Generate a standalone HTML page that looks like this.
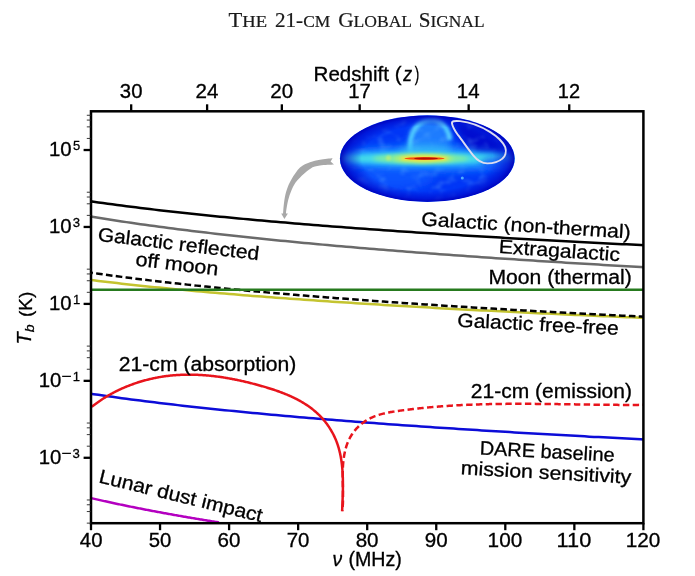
<!DOCTYPE html><html><head><meta charset="utf-8"><style>html,body{margin:0;padding:0;background:#fff;width:695px;height:576px;overflow:hidden;position:relative}</style></head><body><svg width="695" height="576" viewBox="0 0 695 576" style="position:absolute;left:0;top:0;filter:blur(0.55px)">
<defs>
<clipPath id="plot"><rect x="91.00" y="111.30" width="552.40" height="411.90"/></clipPath>
<clipPath id="mw"><ellipse cx="427.3" cy="158.6" rx="87.3" ry="43.2"/></clipPath>
<radialGradient id="mwg" cx="0.5" cy="0.5" r="0.5">
<stop offset="0" stop-color="#0a5cff"/><stop offset="0.7" stop-color="#0048f8"/><stop offset="0.92" stop-color="#0030e0"/><stop offset="1" stop-color="#0018c8"/>
</radialGradient>
<filter id="b1" x="-50%" y="-50%" width="200%" height="200%"><feGaussianBlur stdDeviation="1"/></filter>
<filter id="b2" x="-50%" y="-50%" width="200%" height="200%"><feGaussianBlur stdDeviation="2"/></filter>
<filter id="b3" x="-50%" y="-50%" width="200%" height="200%"><feGaussianBlur stdDeviation="3.5"/></filter>
<filter id="b15" x="-50%" y="-50%" width="200%" height="200%"><feGaussianBlur stdDeviation="1.5"/></filter>
<filter id="b4" x="-50%" y="-50%" width="200%" height="200%"><feGaussianBlur stdDeviation="5"/></filter>
<filter id="b6" x="-50%" y="-50%" width="200%" height="200%"><feGaussianBlur stdDeviation="7"/></filter>
<filter id="tex" x="0" y="0" width="100%" height="100%"><feTurbulence type="fractalNoise" baseFrequency="0.09 0.14" numOctaves="2" seed="7"/><feColorMatrix type="matrix" values="0 0 0 0 0.2  0 0 0 0 0.6  0 0 0 0 1  0 0 0 3 -1.5"/><feGaussianBlur stdDeviation="1"/></filter>
<radialGradient id="rim" cx="0.5" cy="0.5" r="0.5"><stop offset="0.75" stop-color="#0004c8" stop-opacity="0"/><stop offset="0.92" stop-color="#0004c8" stop-opacity="0.6"/><stop offset="1" stop-color="#0000b8" stop-opacity="0.95"/></radialGradient>
<filter id="b05" x="-50%" y="-50%" width="200%" height="200%"><feGaussianBlur stdDeviation="0.6"/></filter>
</defs>
<rect width="695" height="576" fill="#fff"/>
<text x="228.55" y="26.6" font-family="Liberation Serif, serif" fill="#1a1a1a" stroke="#1a1a1a" stroke-width="0.2" textLength="38.54" lengthAdjust="spacingAndGlyphs"><tspan font-size="20.4">T</tspan><tspan font-size="16.8">HE</tspan></text>
<text x="274.95" y="26.6" font-family="Liberation Serif, serif" fill="#1a1a1a" stroke="#1a1a1a" stroke-width="0.2" textLength="55.29" lengthAdjust="spacingAndGlyphs"><tspan font-size="20.4">21-</tspan><tspan font-size="16.8">CM</tspan></text>
<text x="338.15" y="26.6" font-family="Liberation Serif, serif" fill="#1a1a1a" stroke="#1a1a1a" stroke-width="0.2" textLength="73.96" lengthAdjust="spacingAndGlyphs"><tspan font-size="20.4">G</tspan><tspan font-size="16.8">LOBAL</tspan></text>
<text x="418.73" y="26.6" font-family="Liberation Serif, serif" fill="#1a1a1a" stroke="#1a1a1a" stroke-width="0.2" textLength="65.82" lengthAdjust="spacingAndGlyphs"><tspan font-size="20.4">S</tspan><tspan font-size="16.8">IGNAL</tspan></text>
<g clip-path="url(#plot)" fill="none" stroke-linejoin="round">
<path d="M89.00,201.09 L93.68,201.76 L98.35,202.42 L103.03,203.07 L107.70,203.72 L112.38,204.35 L117.05,204.97 L121.73,205.58 L126.41,206.18 L131.08,206.78 L135.76,207.36 L140.43,207.94 L145.11,208.51 L149.78,209.07 L154.46,209.62 L159.13,210.16 L163.81,210.70 L168.49,211.23 L173.16,211.76 L177.84,212.27 L182.51,212.78 L187.19,213.29 L191.86,213.78 L196.54,214.28 L201.22,214.76 L205.89,215.24 L210.57,215.71 L215.24,216.18 L219.92,216.64 L224.59,217.10 L229.27,217.55 L233.94,218.00 L238.62,218.44 L243.30,218.88 L247.97,219.31 L252.65,219.74 L257.32,220.17 L262.00,220.58 L266.67,221.00 L271.35,221.41 L276.03,221.82 L280.70,222.22 L285.38,222.62 L290.05,223.01 L294.73,223.40 L299.40,223.79 L304.08,224.17 L308.75,224.55 L313.43,224.92 L318.11,225.30 L322.78,225.66 L327.46,226.03 L332.13,226.39 L336.81,226.75 L341.48,227.11 L346.16,227.46 L350.84,227.81 L355.51,228.15 L360.19,228.50 L364.86,228.84 L369.54,229.17 L374.21,229.51 L378.89,229.84 L383.56,230.17 L388.24,230.50 L392.92,230.82 L397.59,231.14 L402.27,231.46 L406.94,231.78 L411.62,232.09 L416.29,232.40 L420.97,232.71 L425.65,233.02 L430.32,233.32 L435.00,233.62 L439.67,233.92 L444.35,234.22 L449.02,234.51 L453.70,234.81 L458.37,235.10 L463.05,235.38 L467.73,235.67 L472.40,235.96 L477.08,236.24 L481.75,236.52 L486.43,236.80 L491.10,237.07 L495.78,237.35 L500.46,237.62 L505.13,237.89 L509.81,238.16 L514.48,238.43 L519.16,238.69 L523.83,238.96 L528.51,239.22 L533.18,239.48 L537.86,239.74 L542.54,240.00 L547.21,240.25 L551.89,240.50 L556.56,240.76 L561.24,241.01 L565.91,241.26 L570.59,241.50 L575.27,241.75 L579.94,241.99 L584.62,242.24 L589.29,242.48 L593.97,242.72 L598.64,242.96 L603.32,243.19 L607.99,243.43 L612.67,243.66 L617.35,243.90 L622.02,244.13 L626.70,244.36 L631.37,244.59 L636.05,244.81 L640.72,245.04 L645.40,245.27" stroke="#000" stroke-width="2.50"/>
<path d="M89.00,216.23 L93.68,217.01 L98.35,217.77 L103.03,218.53 L107.70,219.27 L112.38,220.00 L117.05,220.71 L121.73,221.42 L126.41,222.12 L131.08,222.80 L135.76,223.48 L140.43,224.15 L145.11,224.80 L149.78,225.45 L154.46,226.09 L159.13,226.72 L163.81,227.34 L168.49,227.95 L173.16,228.56 L177.84,229.15 L182.51,229.74 L187.19,230.33 L191.86,230.90 L196.54,231.47 L201.22,232.03 L205.89,232.58 L210.57,233.13 L215.24,233.67 L219.92,234.21 L224.59,234.73 L229.27,235.26 L233.94,235.77 L238.62,236.28 L243.30,236.79 L247.97,237.29 L252.65,237.78 L257.32,238.27 L262.00,238.76 L266.67,239.24 L271.35,239.71 L276.03,240.18 L280.70,240.64 L285.38,241.10 L290.05,241.56 L294.73,242.01 L299.40,242.46 L304.08,242.90 L308.75,243.34 L313.43,243.77 L318.11,244.20 L322.78,244.63 L327.46,245.05 L332.13,245.47 L336.81,245.88 L341.48,246.29 L346.16,246.70 L350.84,247.10 L355.51,247.50 L360.19,247.90 L364.86,248.29 L369.54,248.68 L374.21,249.07 L378.89,249.45 L383.56,249.83 L388.24,250.21 L392.92,250.58 L397.59,250.95 L402.27,251.32 L406.94,251.69 L411.62,252.05 L416.29,252.41 L420.97,252.77 L425.65,253.12 L430.32,253.47 L435.00,253.82 L439.67,254.17 L444.35,254.51 L449.02,254.85 L453.70,255.19 L458.37,255.52 L463.05,255.86 L467.73,256.19 L472.40,256.52 L477.08,256.84 L481.75,257.17 L486.43,257.49 L491.10,257.81 L495.78,258.13 L500.46,258.44 L505.13,258.75 L509.81,259.07 L514.48,259.37 L519.16,259.68 L523.83,259.99 L528.51,260.29 L533.18,260.59 L537.86,260.89 L542.54,261.19 L547.21,261.48 L551.89,261.77 L556.56,262.06 L561.24,262.35 L565.91,262.64 L570.59,262.93 L575.27,263.21 L579.94,263.49 L584.62,263.77 L589.29,264.05 L593.97,264.33 L598.64,264.61 L603.32,264.88 L607.99,265.15 L612.67,265.42 L617.35,265.69 L622.02,265.96 L626.70,266.23 L631.37,266.49 L636.05,266.75 L640.72,267.01 L645.40,267.27" stroke="#6a6a6a" stroke-width="2.50"/>
<path d="M89.00,279.75 L93.68,280.33 L98.35,280.91 L103.03,281.47 L107.70,282.02 L112.38,282.57 L117.05,283.11 L121.73,283.64 L126.41,284.16 L131.08,284.67 L135.76,285.18 L140.43,285.67 L145.11,286.17 L149.78,286.65 L154.46,287.13 L159.13,287.60 L163.81,288.06 L168.49,288.52 L173.16,288.97 L177.84,289.42 L182.51,289.86 L187.19,290.30 L191.86,290.73 L196.54,291.15 L201.22,291.57 L205.89,291.99 L210.57,292.40 L215.24,292.80 L219.92,293.20 L224.59,293.60 L229.27,293.99 L233.94,294.37 L238.62,294.76 L243.30,295.13 L247.97,295.51 L252.65,295.88 L257.32,296.24 L262.00,296.61 L266.67,296.96 L271.35,297.32 L276.03,297.67 L280.70,298.02 L285.38,298.36 L290.05,298.70 L294.73,299.04 L299.40,299.37 L304.08,299.71 L308.75,300.03 L313.43,300.36 L318.11,300.68 L322.78,301.00 L327.46,301.31 L332.13,301.63 L336.81,301.94 L341.48,302.24 L346.16,302.55 L350.84,302.85 L355.51,303.15 L360.19,303.45 L364.86,303.74 L369.54,304.03 L374.21,304.32 L378.89,304.61 L383.56,304.89 L388.24,305.18 L392.92,305.46 L397.59,305.73 L402.27,306.01 L406.94,306.28 L411.62,306.55 L416.29,306.82 L420.97,307.09 L425.65,307.35 L430.32,307.62 L435.00,307.88 L439.67,308.14 L444.35,308.39 L449.02,308.65 L453.70,308.90 L458.37,309.15 L463.05,309.40 L467.73,309.65 L472.40,309.89 L477.08,310.14 L481.75,310.38 L486.43,310.62 L491.10,310.86 L495.78,311.10 L500.46,311.33 L505.13,311.57 L509.81,311.80 L514.48,312.03 L519.16,312.26 L523.83,312.49 L528.51,312.72 L533.18,312.94 L537.86,313.16 L542.54,313.39 L547.21,313.61 L551.89,313.83 L556.56,314.04 L561.24,314.26 L565.91,314.48 L570.59,314.69 L575.27,314.90 L579.94,315.11 L584.62,315.32 L589.29,315.53 L593.97,315.74 L598.64,315.95 L603.32,316.15 L607.99,316.36 L612.67,316.56 L617.35,316.76 L622.02,316.96 L626.70,317.16 L631.37,317.36 L636.05,317.55 L640.72,317.75 L645.40,317.94" stroke="#c4c430" stroke-width="2.50"/>
<path d="M89.00,272.36 L93.68,273.04 L98.35,273.70 L103.03,274.36 L107.70,275.00 L112.38,275.64 L117.05,276.26 L121.73,276.88 L126.41,277.48 L131.08,278.08 L135.76,278.67 L140.43,279.25 L145.11,279.82 L149.78,280.38 L154.46,280.94 L159.13,281.49 L163.81,282.03 L168.49,282.56 L173.16,283.09 L177.84,283.61 L182.51,284.12 L187.19,284.63 L191.86,285.13 L196.54,285.62 L201.22,286.11 L205.89,286.59 L210.57,287.07 L215.24,287.54 L219.92,288.00 L224.59,288.46 L229.27,288.92 L233.94,289.37 L238.62,289.81 L243.30,290.25 L247.97,290.69 L252.65,291.12 L257.32,291.54 L262.00,291.96 L266.67,292.38 L271.35,292.79 L276.03,293.20 L280.70,293.60 L285.38,294.00 L290.05,294.40 L294.73,294.79 L299.40,295.18 L304.08,295.57 L308.75,295.95 L313.43,296.33 L318.11,296.70 L322.78,297.07 L327.46,297.44 L332.13,297.80 L336.81,298.16 L341.48,298.52 L346.16,298.87 L350.84,299.22 L355.51,299.57 L360.19,299.92 L364.86,300.26 L369.54,300.60 L374.21,300.94 L378.89,301.27 L383.56,301.60 L388.24,301.93 L392.92,302.25 L397.59,302.58 L402.27,302.90 L406.94,303.21 L411.62,303.53 L416.29,303.84 L420.97,304.15 L425.65,304.46 L430.32,304.77 L435.00,305.07 L439.67,305.37 L444.35,305.67 L449.02,305.97 L453.70,306.26 L458.37,306.55 L463.05,306.84 L467.73,307.13 L472.40,307.42 L477.08,307.70 L481.75,307.98 L486.43,308.26 L491.10,308.54 L495.78,308.82 L500.46,309.09 L505.13,309.36 L509.81,309.63 L514.48,309.90 L519.16,310.17 L523.83,310.43 L528.51,310.70 L533.18,310.96 L537.86,311.22 L542.54,311.48 L547.21,311.73 L551.89,311.99 L556.56,312.24 L561.24,312.49 L565.91,312.75 L570.59,312.99 L575.27,313.24 L579.94,313.49 L584.62,313.73 L589.29,313.97 L593.97,314.21 L598.64,314.45 L603.32,314.69 L607.99,314.93 L612.67,315.17 L617.35,315.40 L622.02,315.63 L626.70,315.86 L631.37,316.09 L636.05,316.32 L640.72,316.55 L645.40,316.78" stroke="#000" stroke-width="2.50" stroke-dasharray="6.6 3.3" stroke-dashoffset="2.70"/>
<path d="M89.00,289.8 L645.40,289.8" stroke="#267a1e" stroke-width="2.50"/>
<path d="M89.00,393.45 L93.68,394.15 L98.35,394.84 L103.03,395.52 L107.70,396.19 L112.38,396.85 L117.05,397.50 L121.73,398.14 L126.41,398.77 L131.08,399.39 L135.76,400.00 L140.43,400.60 L145.11,401.19 L149.78,401.78 L154.46,402.35 L159.13,402.92 L163.81,403.48 L168.49,404.03 L173.16,404.58 L177.84,405.12 L182.51,405.65 L187.19,406.18 L191.86,406.70 L196.54,407.21 L201.22,407.71 L205.89,408.21 L210.57,408.71 L215.24,409.20 L219.92,409.68 L224.59,410.16 L229.27,410.63 L233.94,411.10 L238.62,411.56 L243.30,412.01 L247.97,412.46 L252.65,412.91 L257.32,413.35 L262.00,413.79 L266.67,414.22 L271.35,414.65 L276.03,415.07 L280.70,415.49 L285.38,415.91 L290.05,416.32 L294.73,416.73 L299.40,417.13 L304.08,417.53 L308.75,417.92 L313.43,418.32 L318.11,418.70 L322.78,419.09 L327.46,419.47 L332.13,419.85 L336.81,420.22 L341.48,420.59 L346.16,420.96 L350.84,421.32 L355.51,421.68 L360.19,422.04 L364.86,422.40 L369.54,422.75 L374.21,423.10 L378.89,423.44 L383.56,423.79 L388.24,424.13 L392.92,424.47 L397.59,424.80 L402.27,425.13 L406.94,425.46 L411.62,425.79 L416.29,426.11 L420.97,426.44 L425.65,426.76 L430.32,427.07 L435.00,427.39 L439.67,427.70 L444.35,428.01 L449.02,428.32 L453.70,428.62 L458.37,428.93 L463.05,429.23 L467.73,429.53 L472.40,429.82 L477.08,430.12 L481.75,430.41 L486.43,430.70 L491.10,430.99 L495.78,431.28 L500.46,431.56 L505.13,431.84 L509.81,432.12 L514.48,432.40 L519.16,432.68 L523.83,432.95 L528.51,433.23 L533.18,433.50 L537.86,433.77 L542.54,434.04 L547.21,434.30 L551.89,434.57 L556.56,434.83 L561.24,435.09 L565.91,435.35 L570.59,435.61 L575.27,435.87 L579.94,436.12 L584.62,436.37 L589.29,436.63 L593.97,436.88 L598.64,437.12 L603.32,437.37 L607.99,437.62 L612.67,437.86 L617.35,438.11 L622.02,438.35 L626.70,438.59 L631.37,438.83 L636.05,439.06 L640.72,439.30 L645.40,439.53" stroke="#0c0cd8" stroke-width="2.50"/>
<path d="M89.00,497.63 L90.09,497.88 L91.18,498.14 L92.28,498.39 L93.37,498.64 L94.46,498.89 L95.55,499.14 L96.65,499.39 L97.74,499.63 L98.83,499.88 L99.92,500.13 L101.02,500.37 L102.11,500.61 L103.20,500.86 L104.29,501.10 L105.39,501.34 L106.48,501.58 L107.57,501.82 L108.66,502.05 L109.76,502.29 L110.85,502.53 L111.94,502.76 L113.03,503.00 L114.13,503.23 L115.22,503.46 L116.31,503.70 L117.40,503.93 L118.50,504.16 L119.59,504.39 L120.68,504.62 L121.77,504.84 L122.87,505.07 L123.96,505.30 L125.05,505.52 L126.14,505.75 L127.24,505.97 L128.33,506.19 L129.42,506.42 L130.51,506.64 L131.61,506.86 L132.70,507.08 L133.79,507.30 L134.88,507.52 L135.97,507.73 L137.07,507.95 L138.16,508.17 L139.25,508.38 L140.34,508.60 L141.44,508.81 L142.53,509.02 L143.62,509.24 L144.71,509.45 L145.81,509.66 L146.90,509.87 L147.99,510.08 L149.08,510.29 L150.18,510.50 L151.27,510.71 L152.36,510.91 L153.45,511.12 L154.55,511.33 L155.64,511.53 L156.73,511.74 L157.82,511.94 L158.92,512.14 L160.01,512.35 L161.10,512.55 L162.19,512.75 L163.29,512.95 L164.38,513.15 L165.47,513.35 L166.56,513.55 L167.66,513.75 L168.75,513.94 L169.84,514.14 L170.93,514.34 L172.03,514.53 L173.12,514.73 L174.21,514.92 L175.30,515.12 L176.39,515.31 L177.49,515.50 L178.58,515.69 L179.67,515.89 L180.76,516.08 L181.86,516.27 L182.95,516.46 L184.04,516.65 L185.13,516.84 L186.23,517.02 L187.32,517.21 L188.41,517.40 L189.50,517.58 L190.60,517.77 L191.69,517.96 L192.78,518.14 L193.87,518.33 L194.97,518.51 L196.06,518.69 L197.15,518.88 L198.24,519.06 L199.34,519.24 L200.43,519.42 L201.52,519.60 L202.61,519.78 L203.71,519.96 L204.80,520.14 L205.89,520.32 L206.98,520.50 L208.08,520.68 L209.17,520.85 L210.26,521.03 L211.35,521.21 L212.45,521.38 L213.54,521.56 L214.63,521.73 L215.72,521.91 L216.82,522.08 L217.91,522.25 L219.00,522.43" stroke="#b400c0" stroke-width="2.50"/>
<path d="M91.74,406.85 L92.42,406.31 L93.10,405.78 L93.78,405.25 L94.47,404.73 L95.16,404.21 L95.85,403.69 L96.55,403.18 L97.25,402.67 L97.96,402.17 L98.66,401.67 L99.38,401.18 L100.09,400.69 L100.81,400.21 L101.53,399.73 L102.26,399.25 L102.98,398.78 L103.72,398.31 L104.45,397.85 L105.19,397.39 L105.93,396.94 L106.67,396.49 L107.42,396.05 L108.16,395.61 L108.92,395.18 L109.67,394.75 L110.43,394.32 L111.19,393.90 L111.95,393.48 L112.72,393.07 L113.49,392.66 L114.26,392.26 L115.03,391.86 L115.80,391.47 L116.58,391.08 L117.36,390.69 L118.15,390.31 L118.93,389.94 L119.72,389.57 L120.51,389.20 L121.30,388.84 L122.09,388.48 L122.89,388.13 L123.69,387.78 L124.49,387.44 L125.29,387.10 L126.10,386.76 L126.90,386.43 L127.71,386.11 L128.52,385.79 L129.33,385.47 L130.14,385.16 L130.96,384.85 L131.78,384.55 L132.59,384.25 L133.41,383.96 L134.24,383.67 L135.06,383.38 L135.88,383.10 L136.71,382.83 L137.54,382.56 L138.37,382.29 L139.20,382.03 L140.03,381.77 L140.86,381.52 L141.69,381.27 L142.53,381.03 L143.37,380.79 L144.20,380.56 L145.04,380.33 L145.88,380.11 L146.72,379.89 L147.56,379.67 L148.40,379.46 L149.25,379.25 L150.09,379.05 L150.93,378.86 L151.78,378.66 L152.63,378.48 L153.47,378.29 L154.32,378.12 L155.17,377.94 L156.01,377.77 L156.86,377.61 L157.71,377.45 L158.56,377.29 L159.41,377.14 L160.26,377.00 L161.11,376.86 L161.96,376.72 L162.81,376.59 L163.66,376.46 L164.51,376.34 L165.37,376.22 L166.22,376.10 L167.07,376.00 L167.92,375.89 L168.78,375.79 L169.63,375.69 L170.48,375.60 L171.33,375.51 L172.19,375.43 L173.04,375.35 L173.90,375.28 L174.75,375.21 L175.60,375.14 L176.46,375.08 L177.31,375.02 L178.17,374.97 L179.02,374.92 L179.88,374.88 L180.73,374.83 L181.59,374.80 L182.44,374.76 L183.30,374.74 L184.16,374.71 L185.01,374.69 L185.87,374.67 L186.73,374.66 L187.58,374.65 L188.44,374.65 L189.30,374.64 L190.15,374.65 L191.01,374.65 L191.87,374.66 L192.72,374.68 L193.58,374.70 L194.44,374.72 L195.30,374.74 L196.15,374.77 L197.01,374.80 L197.87,374.84 L198.73,374.88 L199.59,374.92 L200.44,374.97 L201.30,375.02 L202.16,375.07 L203.02,375.13 L203.88,375.19 L204.73,375.26 L205.59,375.32 L206.45,375.40 L207.31,375.47 L208.17,375.55 L209.03,375.63 L209.89,375.71 L210.74,375.80 L211.60,375.89 L212.46,375.99 L213.32,376.08 L214.18,376.18 L215.04,376.29 L215.89,376.39 L216.75,376.50 L217.61,376.62 L218.47,376.73 L219.33,376.85 L220.19,376.98 L221.04,377.10 L221.90,377.23 L222.76,377.36 L223.62,377.49 L224.48,377.63 L225.34,377.77 L226.19,377.91 L227.05,378.06 L227.91,378.21 L228.77,378.36 L229.62,378.51 L230.48,378.67 L231.34,378.83 L232.20,378.99 L233.05,379.16 L233.91,379.32 L234.77,379.49 L235.62,379.67 L236.48,379.84 L237.34,380.02 L238.19,380.20 L239.05,380.38 L239.91,380.57 L240.76,380.76 L241.62,380.95 L242.47,381.14 L243.33,381.33 L244.19,381.53 L245.04,381.73 L245.90,381.93 L246.75,382.14 L247.61,382.34 L248.46,382.55 L249.31,382.76 L250.17,382.98 L251.02,383.19 L251.88,383.41 L252.73,383.63 L253.58,383.85 L254.44,384.07 L255.29,384.30 L256.14,384.53 L256.99,384.76 L257.85,384.99 L258.70,385.22 L259.55,385.46 L260.40,385.70 L261.25,385.94 L262.10,386.18 L262.95,386.42 L263.80,386.67 L264.65,386.92 L265.50,387.17 L266.35,387.42 L267.20,387.68 L268.04,387.93 L268.89,388.19 L269.73,388.46 L270.57,388.72 L271.42,388.99 L272.26,389.26 L273.10,389.54 L273.93,389.81 L274.77,390.09 L275.60,390.38 L276.44,390.66 L277.27,390.95 L278.10,391.25 L278.92,391.54 L279.75,391.84 L280.57,392.15 L281.40,392.46 L282.21,392.77 L283.03,393.08 L283.85,393.40 L284.66,393.72 L285.47,394.05 L286.28,394.38 L287.08,394.72 L287.88,395.05 L288.68,395.40 L289.48,395.75 L290.27,396.10 L291.06,396.45 L291.85,396.82 L292.63,397.18 L293.41,397.55 L294.19,397.93 L294.96,398.31 L295.73,398.69 L296.50,399.08 L297.26,399.48 L298.02,399.88 L298.78,400.28 L299.53,400.70 L300.28,401.11 L301.02,401.53 L301.76,401.96 L302.49,402.39 L303.23,402.83 L303.95,403.28 L304.68,403.72 L305.39,404.18 L306.11,404.64 L306.82,405.11 L307.52,405.58 L308.22,406.06 L308.91,406.55 L309.60,407.04 L310.29,407.54 L310.97,408.04 L311.64,408.56 L312.31,409.07 L312.97,409.60 L313.63,410.13 L314.28,410.67 L314.93,411.21 L315.57,411.76 L316.21,412.32 L316.84,412.89 L317.46,413.46 L318.08,414.04 L318.69,414.63 L319.30,415.22 L319.90,415.83 L320.50,416.44 L321.08,417.05 L321.66,417.68 L322.24,418.31 L322.81,418.95 L323.37,419.59 L323.92,420.25 L324.47,420.90 L325.01,421.57 L325.54,422.24 L326.07,422.92 L326.59,423.60 L327.10,424.30 L327.60,424.99 L328.10,425.70 L328.59,426.40 L329.07,427.12 L329.54,427.84 L330.00,428.56 L330.46,429.30 L330.91,430.03 L331.35,430.77 L331.78,431.52 L332.20,432.27 L332.61,433.03 L333.02,433.79 L333.41,434.56 L333.80,435.33 L334.18,436.11 L334.55,436.89 L334.91,437.67 L335.26,438.46 L335.60,439.25 L335.93,440.05 L336.25,440.85 L336.57,441.66 L336.87,442.47 L337.16,443.28 L337.45,444.09 L337.72,444.91 L337.99,445.74 L338.25,446.56 L338.50,447.39 L338.74,448.22 L338.97,449.06 L339.20,449.90 L339.41,450.74 L339.62,451.58 L339.82,452.43 L340.02,453.28 L340.20,454.13 L340.38,454.98 L340.55,455.84 L340.72,456.70 L340.87,457.56 L341.02,458.42 L341.17,459.28 L341.30,460.15 L341.43,461.02 L341.56,461.89 L341.67,462.76 L341.78,463.63 L341.89,464.51 L341.99,465.38 L342.08,466.26 L342.17,467.14 L342.25,468.01 L342.33,468.89 L342.40,469.77 L342.47,470.66 L342.53,471.54 L342.58,472.42 L342.64,473.30 L342.68,474.19 L342.72,475.07 L342.76,475.95 L342.80,476.84 L342.83,477.72 L342.85,478.61 L342.87,479.49 L342.89,480.37 L342.91,481.26 L342.92,482.14 L342.93,483.02 L342.93,483.90 L342.93,484.78 L342.93,485.66 L342.93,486.54 L342.92,487.42 L342.91,488.30 L342.90,489.17 L342.88,490.05 L342.86,490.92 L342.85,491.79 L342.82,492.67 L342.80,493.53 L342.78,494.40 L342.75,495.27 L342.72,496.13 L342.69,496.99 L342.66,497.85 L342.63,498.71 L342.60,499.56 L342.57,500.42 L342.53,501.27 L342.50,502.11 L342.46,502.96 L342.43,503.80 L342.39,504.64 L342.36,505.48 L342.32,506.31 L342.29,507.14 L342.25,507.97 L342.22,508.79 L342.18,509.61 L342.15,510.43 L342.12,511.24" stroke="#e8141c" stroke-width="2.50"/>
<path d="M342.29,511.23 L342.39,510.36 L342.48,509.48 L342.57,508.59 L342.64,507.70 L342.71,506.80 L342.77,505.90 L342.82,505.00 L342.87,504.09 L342.90,503.18 L342.93,502.26 L342.96,501.34 L342.98,500.41 L342.99,499.48 L343.00,498.55 L343.01,497.62 L343.01,496.68 L343.00,495.74 L343.00,494.79 L342.99,493.84 L342.97,492.89 L342.96,491.94 L342.94,490.98 L342.92,490.02 L342.90,489.06 L342.88,488.10 L342.86,487.14 L342.84,486.17 L342.82,485.20 L342.80,484.23 L342.78,483.26 L342.76,482.29 L342.74,481.31 L342.72,480.34 L342.71,479.36 L342.70,478.38 L342.69,477.41 L342.69,476.43 L342.69,475.45 L342.69,474.47 L342.70,473.49 L342.72,472.51 L342.74,471.53 L342.76,470.55 L342.79,469.58 L342.83,468.60 L342.87,467.62 L342.93,466.65 L342.98,465.67 L343.05,464.69 L343.13,463.72 L343.21,462.75 L343.30,461.78 L343.40,460.81 L343.51,459.84 L343.64,458.88 L343.77,457.91 L343.91,456.95 L344.06,455.99 L344.23,455.04 L344.40,454.09 L344.59,453.14 L344.79,452.20 L345.00,451.26 L345.23,450.32 L345.46,449.39 L345.71,448.47 L345.98,447.55 L346.25,446.64 L346.54,445.74 L346.85,444.84 L347.17,443.95 L347.50,443.07 L347.85,442.20 L348.21,441.33 L348.59,440.48 L348.99,439.63 L349.40,438.79 L349.83,437.96 L350.27,437.15 L350.73,436.34 L351.21,435.54 L351.70,434.76 L352.21,433.99 L352.74,433.22 L353.28,432.47 L353.83,431.73 L354.40,431.00 L354.99,430.29 L355.59,429.59 L356.20,428.89 L356.83,428.22 L357.47,427.55 L358.12,426.90 L358.78,426.26 L359.46,425.63 L360.15,425.02 L360.86,424.42 L361.57,423.83 L362.30,423.26 L363.03,422.70 L363.78,422.16 L364.54,421.63 L365.30,421.11 L366.08,420.61 L366.87,420.12 L367.67,419.65 L368.47,419.20 L369.29,418.76 L370.11,418.33 L370.94,417.93 L371.78,417.53 L372.62,417.16 L373.48,416.79 L374.34,416.44 L375.21,416.11 L376.08,415.79 L376.96,415.48 L377.85,415.18 L378.74,414.90 L379.64,414.62 L380.54,414.36 L381.45,414.11 L382.36,413.87 L383.28,413.64 L384.20,413.42 L385.12,413.20 L386.05,413.00 L386.99,412.80 L387.92,412.61 L388.86,412.43 L389.80,412.25 L390.75,412.08 L391.69,411.92 L392.64,411.76 L393.59,411.61 L394.55,411.46 L395.50,411.32 L396.45,411.17 L397.41,411.04 L398.36,410.90 L399.32,410.77 L400.27,410.63 L401.23,410.50 L402.18,410.38 L403.14,410.25 L404.09,410.12 L405.05,410.00 L406.00,409.88 L406.95,409.76 L407.91,409.64 L408.86,409.52 L409.82,409.40 L410.77,409.29 L411.72,409.17 L412.68,409.06 L413.63,408.95 L414.58,408.84 L415.54,408.74 L416.49,408.63 L417.44,408.53 L418.39,408.42 L419.35,408.32 L420.30,408.22 L421.25,408.12 L422.20,408.02 L423.16,407.93 L424.11,407.83 L425.06,407.74 L426.01,407.65 L426.96,407.56 L427.91,407.47 L428.86,407.38 L429.82,407.29 L430.77,407.21 L431.72,407.12 L432.67,407.04 L433.62,406.96 L434.57,406.88 L435.52,406.80 L436.47,406.72 L437.42,406.65 L438.37,406.57 L439.32,406.50 L440.27,406.42 L441.22,406.35 L442.17,406.28 L443.12,406.21 L444.07,406.14 L445.02,406.08 L445.97,406.01 L446.92,405.95 L447.87,405.88 L448.82,405.82 L449.76,405.76 L450.71,405.70 L451.66,405.64 L452.61,405.58 L453.56,405.53 L454.51,405.47 L455.46,405.42 L456.40,405.37 L457.35,405.31 L458.30,405.26 L459.25,405.21 L460.20,405.16 L461.14,405.12 L462.09,405.07 L463.04,405.02 L463.99,404.98 L464.93,404.93 L465.88,404.89 L466.83,404.85 L467.78,404.81 L468.72,404.77 L469.67,404.73 L470.62,404.69 L471.57,404.65 L472.51,404.62 L473.46,404.58 L474.41,404.55 L475.35,404.52 L476.30,404.48 L477.25,404.45 L478.19,404.42 L479.14,404.39 L480.09,404.36 L481.03,404.33 L481.98,404.31 L482.93,404.28 L483.87,404.25 L484.82,404.23 L485.77,404.21 L486.71,404.18 L487.66,404.16 L488.60,404.14 L489.55,404.12 L490.50,404.10 L491.44,404.08 L492.39,404.06 L493.33,404.04 L494.28,404.03 L495.23,404.01 L496.17,403.99 L497.12,403.98 L498.06,403.96 L499.01,403.95 L499.95,403.94 L500.90,403.93 L501.85,403.91 L502.79,403.90 L503.74,403.89 L504.68,403.88 L505.63,403.88 L506.57,403.87 L507.52,403.86 L508.46,403.85 L509.41,403.85 L510.36,403.84 L511.30,403.84 L512.25,403.83 L513.19,403.83 L514.14,403.82 L515.08,403.82 L516.03,403.82 L516.97,403.82 L517.92,403.81 L518.86,403.81 L519.81,403.81 L520.75,403.81 L521.70,403.81 L522.64,403.82 L523.59,403.82 L524.54,403.82 L525.48,403.82 L526.43,403.82 L527.37,403.83 L528.32,403.83 L529.26,403.84 L530.21,403.84 L531.15,403.85 L532.10,403.85 L533.04,403.86 L533.99,403.86 L534.93,403.87 L535.88,403.88 L536.82,403.88 L537.77,403.89 L538.72,403.90 L539.66,403.91 L540.61,403.92 L541.55,403.92 L542.50,403.93 L543.44,403.94 L544.39,403.95 L545.33,403.96 L546.28,403.97 L547.23,403.98 L548.17,403.99 L549.12,404.01 L550.06,404.02 L551.01,404.03 L551.95,404.04 L552.90,404.05 L553.85,404.06 L554.79,404.08 L555.74,404.09 L556.68,404.10 L557.63,404.11 L558.58,404.13 L559.52,404.14 L560.47,404.15 L561.41,404.17 L562.36,404.18 L563.31,404.19 L564.25,404.21 L565.20,404.22 L566.15,404.24 L567.09,404.25 L568.04,404.26 L568.99,404.28 L569.93,404.29 L570.88,404.31 L571.83,404.32 L572.77,404.33 L573.72,404.35 L574.67,404.36 L575.61,404.38 L576.56,404.39 L577.51,404.41 L578.45,404.42 L579.40,404.43 L580.35,404.45 L581.30,404.46 L582.24,404.48 L583.19,404.49 L584.14,404.50 L585.09,404.52 L586.03,404.53 L586.98,404.54 L587.93,404.56 L588.88,404.57 L589.83,404.58 L590.77,404.60 L591.72,404.61 L592.67,404.62 L593.62,404.64 L594.57,404.65 L595.52,404.66 L596.47,404.67 L597.41,404.68 L598.36,404.70 L599.31,404.71 L600.26,404.72 L601.21,404.73 L602.16,404.74 L603.11,404.75 L604.06,404.76 L605.01,404.77 L605.96,404.78 L606.91,404.79 L607.86,404.80 L608.81,404.81 L609.76,404.82 L610.71,404.82 L611.66,404.83 L612.61,404.84 L613.56,404.85 L614.51,404.85 L615.46,404.86 L616.41,404.86 L617.36,404.87 L618.31,404.88 L619.26,404.88 L620.21,404.88 L621.17,404.89 L622.12,404.89 L623.07,404.90 L624.02,404.90 L624.97,404.90 L625.92,404.90 L626.88,404.90 L627.83,404.90 L628.78,404.90 L629.73,404.90 L630.69,404.90 L631.64,404.90 L632.59,404.90 L633.54,404.90 L634.50,404.90 L635.45,404.89 L636.40,404.89 L637.36,404.88 L638.31,404.88 L639.26,404.87 L640.22,404.87 L641.17,404.86 L642.13,404.85 L643.08,404.85 L644.04,404.84" stroke="#e8141c" stroke-width="2.50" stroke-dasharray="6.40 3.40" stroke-dashoffset="5.36"/>
</g>
<g>
<ellipse cx="427.3" cy="158.6" rx="87.4" ry="43.3" fill="#0036f6"/>
<g clip-path="url(#mw)">
<ellipse cx="427" cy="159" rx="95" ry="15" fill="#0a64ff" filter="url(#b4)"/>
<ellipse cx="395" cy="178" rx="40" ry="12" fill="#0a5aff" filter="url(#b4)" opacity="0.8"/>
<path d="M452,122 C470,124 495,135 505,150 C504,160 490,164 478,160 C468,150 458,135 452,122 Z" fill="#0010d0" filter="url(#b3)"/>
<path d="M409,158 C405,138 412,120 429,118 C444,117 452,132 452,158 Z" fill="#2084ff" filter="url(#b3)" opacity="0.9"/>
<path d="M411,156 C408,139 413,124 427,120.5 C438,118 447,124 450,140" stroke="#4cc8ff" stroke-width="5" fill="none" filter="url(#b15)"/>
<rect x="340" y="115" width="180" height="88" fill="#3a90ff" filter="url(#tex)" opacity="0.25"/>
<ellipse cx="427" cy="158.6" rx="96" ry="8.5" fill="#28b4ff" filter="url(#b3)"/>
<ellipse cx="427" cy="158.6" rx="95" ry="4.5" fill="#44dce8" filter="url(#b2)"/>
<ellipse cx="497" cy="164" rx="16" ry="8" fill="#0a50fa" filter="url(#b3)" opacity="0.7"/>
<ellipse cx="425" cy="151" rx="26" ry="7" fill="#38c0f4" filter="url(#b3)" opacity="0.6"/>
<ellipse cx="421" cy="158.6" rx="48" ry="4.6" fill="#80eca0" filter="url(#b2)"/>
<ellipse cx="423" cy="158.6" rx="30" ry="3.8" fill="#b8f070" filter="url(#b2)"/>
<circle cx="388.5" cy="157.9" r="2.6" fill="#c8f070" filter="url(#b1)" opacity="0.7"/>
<ellipse cx="424" cy="158.5" rx="24" ry="3.0" fill="#f4e040" filter="url(#b15)"/>
<ellipse cx="424.5" cy="158.5" rx="20" ry="1.5" fill="#f85010" filter="url(#b05)"/>
<ellipse cx="426" cy="158.5" rx="12" ry="1.0" fill="#b81000" filter="url(#b05)"/>
<circle cx="462.3" cy="177.9" r="1.5" fill="#50b0ff" filter="url(#b05)"/>
<ellipse cx="427.3" cy="158.6" rx="87.4" ry="43.3" fill="url(#rim)"/>
</g>
<path d="M452.0,123.5 C451.5,121 454,120.8 460.1,121.1 C470,122 482,127 490.3,132.1 C498,137 503,142 505.2,147.2 C507,152 505,157 502.4,158.6 C499,161.5 494,163.3 487.3,163.4 C482,163.3 477,160 473.2,155.3 C468,149 462,140 458.1,135.2 C455,131 452.5,126 452.0,123.5 Z" fill="none" stroke="#dcdcf0" stroke-width="1.9"/>
</g>
<path d="M332.6,158.3 C330.50,158.53 323.77,159.03 320.00,159.70 C316.23,160.37 313.33,160.98 310.00,162.30 C306.67,163.62 303.10,164.73 300.00,167.60 C296.90,170.47 293.62,175.77 291.40,179.50 C289.18,183.23 287.87,186.58 286.70,190.00 C285.53,193.42 284.97,196.67 284.40,200.00 C283.83,203.33 283.52,207.77 283.30,210.00 C283.08,212.23 283.13,212.83 283.10,213.40 L281.2,213.4 L284.4,218.9 L287.9,213.4 L286.0,213.4 C286.05,212.83 285.93,212.23 286.30,210.00 C286.67,207.77 287.32,203.33 288.20,200.00 C289.08,196.67 290.07,193.30 291.60,190.00 C293.13,186.70 294.33,183.72 297.40,180.20 C300.47,176.68 306.23,171.33 310.00,168.90 C313.77,166.47 316.00,166.32 320.00,165.60 C324.00,164.88 331.67,164.77 334.00,164.60 L330.6,161.5 Z" fill="#a8a8a8"/>
<rect x="91.00" y="111.30" width="552.40" height="411.90" fill="none" stroke="#000" stroke-width="2.5"/>
<line x1="91.00" y1="523.20" x2="91.00" y2="530.2" stroke="#000" stroke-width="2.3"/>
<line x1="160.05" y1="523.20" x2="160.05" y2="530.2" stroke="#000" stroke-width="2.3"/>
<line x1="229.10" y1="523.20" x2="229.10" y2="530.2" stroke="#000" stroke-width="2.3"/>
<line x1="298.15" y1="523.20" x2="298.15" y2="530.2" stroke="#000" stroke-width="2.3"/>
<line x1="367.20" y1="523.20" x2="367.20" y2="530.2" stroke="#000" stroke-width="2.3"/>
<line x1="436.25" y1="523.20" x2="436.25" y2="530.2" stroke="#000" stroke-width="2.3"/>
<line x1="505.30" y1="523.20" x2="505.30" y2="530.2" stroke="#000" stroke-width="2.3"/>
<line x1="574.35" y1="523.20" x2="574.35" y2="530.2" stroke="#000" stroke-width="2.3"/>
<line x1="643.40" y1="523.20" x2="643.40" y2="530.2" stroke="#000" stroke-width="2.3"/>
<line x1="131.18" y1="111.30" x2="131.18" y2="104.3" stroke="#000" stroke-width="2.3"/>
<line x1="207.11" y1="111.30" x2="207.11" y2="104.3" stroke="#000" stroke-width="2.3"/>
<line x1="281.84" y1="111.30" x2="281.84" y2="104.3" stroke="#000" stroke-width="2.3"/>
<line x1="359.68" y1="111.30" x2="359.68" y2="104.3" stroke="#000" stroke-width="2.3"/>
<line x1="468.66" y1="111.30" x2="468.66" y2="104.3" stroke="#000" stroke-width="2.3"/>
<line x1="569.25" y1="111.30" x2="569.25" y2="104.3" stroke="#000" stroke-width="2.3"/>
<line x1="91.00" y1="150.02" x2="83.6" y2="150.02" stroke="#000" stroke-width="2.3"/>
<line x1="91.00" y1="226.96" x2="83.6" y2="226.96" stroke="#000" stroke-width="2.3"/>
<line x1="91.00" y1="303.90" x2="83.6" y2="303.90" stroke="#000" stroke-width="2.3"/>
<line x1="91.00" y1="380.84" x2="83.6" y2="380.84" stroke="#000" stroke-width="2.3"/>
<line x1="91.00" y1="457.78" x2="83.6" y2="457.78" stroke="#000" stroke-width="2.3"/>
<line x1="91.00" y1="138.44" x2="86.8" y2="138.44" stroke="#222" stroke-width="0.9"/>
<line x1="91.00" y1="126.86" x2="86.8" y2="126.86" stroke="#222" stroke-width="0.9"/>
<line x1="91.00" y1="120.08" x2="86.8" y2="120.08" stroke="#222" stroke-width="0.9"/>
<line x1="91.00" y1="115.28" x2="86.8" y2="115.28" stroke="#222" stroke-width="0.9"/>
<line x1="91.00" y1="215.38" x2="86.8" y2="215.38" stroke="#222" stroke-width="0.9"/>
<line x1="91.00" y1="203.80" x2="86.8" y2="203.80" stroke="#222" stroke-width="0.9"/>
<line x1="91.00" y1="197.02" x2="86.8" y2="197.02" stroke="#222" stroke-width="0.9"/>
<line x1="91.00" y1="192.22" x2="86.8" y2="192.22" stroke="#222" stroke-width="0.9"/>
<line x1="91.00" y1="292.32" x2="86.8" y2="292.32" stroke="#222" stroke-width="0.9"/>
<line x1="91.00" y1="280.74" x2="86.8" y2="280.74" stroke="#222" stroke-width="0.9"/>
<line x1="91.00" y1="273.96" x2="86.8" y2="273.96" stroke="#222" stroke-width="0.9"/>
<line x1="91.00" y1="269.16" x2="86.8" y2="269.16" stroke="#222" stroke-width="0.9"/>
<line x1="91.00" y1="369.26" x2="86.8" y2="369.26" stroke="#222" stroke-width="0.9"/>
<line x1="91.00" y1="357.68" x2="86.8" y2="357.68" stroke="#222" stroke-width="0.9"/>
<line x1="91.00" y1="350.90" x2="86.8" y2="350.90" stroke="#222" stroke-width="0.9"/>
<line x1="91.00" y1="346.10" x2="86.8" y2="346.10" stroke="#222" stroke-width="0.9"/>
<line x1="91.00" y1="446.20" x2="86.8" y2="446.20" stroke="#222" stroke-width="0.9"/>
<line x1="91.00" y1="434.62" x2="86.8" y2="434.62" stroke="#222" stroke-width="0.9"/>
<line x1="91.00" y1="427.84" x2="86.8" y2="427.84" stroke="#222" stroke-width="0.9"/>
<line x1="91.00" y1="423.04" x2="86.8" y2="423.04" stroke="#222" stroke-width="0.9"/>
<line x1="91.00" y1="523.14" x2="86.8" y2="523.14" stroke="#222" stroke-width="0.9"/>
<line x1="91.00" y1="511.56" x2="86.8" y2="511.56" stroke="#222" stroke-width="0.9"/>
<line x1="91.00" y1="504.78" x2="86.8" y2="504.78" stroke="#222" stroke-width="0.9"/>
<line x1="91.00" y1="499.98" x2="86.8" y2="499.98" stroke="#222" stroke-width="0.9"/>
<g font-family="Liberation Sans, sans-serif" fill="#000" stroke="#000" stroke-width="0.3">
<text x="79.85" y="547.30" font-size="19.40" textLength="22.65" lengthAdjust="spacingAndGlyphs">40</text>
<text x="148.73" y="547.30" font-size="19.40" textLength="22.59" lengthAdjust="spacingAndGlyphs">50</text>
<text x="217.51" y="547.30" font-size="19.40" textLength="22.91" lengthAdjust="spacingAndGlyphs">60</text>
<text x="286.67" y="547.30" font-size="19.40" textLength="22.71" lengthAdjust="spacingAndGlyphs">70</text>
<text x="355.67" y="547.30" font-size="19.40" textLength="22.90" lengthAdjust="spacingAndGlyphs">80</text>
<text x="424.72" y="547.30" font-size="19.40" textLength="22.90" lengthAdjust="spacingAndGlyphs">90</text>
<text x="487.61" y="547.30" font-size="19.40" textLength="34.63" lengthAdjust="spacingAndGlyphs">100</text>
<text x="556.58" y="547.30" font-size="19.40" textLength="34.65" lengthAdjust="spacingAndGlyphs">110</text>
<text x="625.71" y="547.30" font-size="19.40" textLength="34.63" lengthAdjust="spacingAndGlyphs">120</text>
<text x="119.86" y="98.20" font-size="19.40" textLength="22.59" lengthAdjust="spacingAndGlyphs">30</text>
<text x="195.48" y="98.20" font-size="19.40" textLength="22.90" lengthAdjust="spacingAndGlyphs">24</text>
<text x="270.31" y="98.20" font-size="19.40" textLength="22.81" lengthAdjust="spacingAndGlyphs">20</text>
<text x="348.16" y="98.20" font-size="19.40" textLength="22.58" lengthAdjust="spacingAndGlyphs">17</text>
<text x="456.85" y="98.20" font-size="19.40" textLength="22.75" lengthAdjust="spacingAndGlyphs">14</text>
<text x="557.89" y="98.20" font-size="19.40" textLength="22.26" lengthAdjust="spacingAndGlyphs">12</text>
<text x="49.01" y="156.42" font-size="19.40" textLength="22.66" lengthAdjust="spacingAndGlyphs">10</text>
<text x="72.89" y="149.82" font-size="13.58" textLength="7.24" lengthAdjust="spacingAndGlyphs">5</text>
<text x="49.01" y="233.36" font-size="19.40" textLength="22.66" lengthAdjust="spacingAndGlyphs">10</text>
<text x="72.82" y="226.76" font-size="13.58" textLength="7.32" lengthAdjust="spacingAndGlyphs">3</text>
<text x="49.01" y="310.30" font-size="19.40" textLength="22.66" lengthAdjust="spacingAndGlyphs">10</text>
<text x="72.96" y="303.70" font-size="13.58" textLength="7.24" lengthAdjust="spacingAndGlyphs">1</text>
<text x="38.81" y="387.24" font-size="19.40" textLength="22.66" lengthAdjust="spacingAndGlyphs">10</text>
<text x="61.73" y="380.64" font-size="13.58" textLength="10.11" lengthAdjust="spacingAndGlyphs">−</text>
<text x="72.66" y="380.64" font-size="13.58" textLength="7.24" lengthAdjust="spacingAndGlyphs">1</text>
<text x="38.81" y="464.18" font-size="19.40" textLength="22.66" lengthAdjust="spacingAndGlyphs">10</text>
<text x="61.73" y="457.58" font-size="13.58" textLength="10.11" lengthAdjust="spacingAndGlyphs">−</text>
<text x="72.52" y="457.58" font-size="13.58" textLength="7.32" lengthAdjust="spacingAndGlyphs">3</text>
<text x="421.04" y="225.43" font-size="19.40" textLength="209.69" lengthAdjust="spacingAndGlyphs" transform="rotate(3.60 421.04 225.43)">Galactic (non-thermal)</text>
<text x="498.51" y="253.09" font-size="19.40" textLength="121.28" lengthAdjust="spacingAndGlyphs" transform="rotate(3.80 498.51 253.09)">Extragalactic</text>
<text x="488.41" y="284.20" font-size="19.40" textLength="143.37" lengthAdjust="spacingAndGlyphs">Moon (thermal)</text>
<text x="457.05" y="326.70" font-size="19.40" textLength="161.60" lengthAdjust="spacingAndGlyphs" transform="rotate(2.90 457.05 326.70)">Galactic free-free</text>
<text x="97.16" y="240.67" font-size="19.40" textLength="162.39" lengthAdjust="spacingAndGlyphs" transform="rotate(6.90 97.16 240.67)">Galactic reflected</text>
<text x="134.95" y="265.50" font-size="19.40" textLength="83.21" lengthAdjust="spacingAndGlyphs" transform="rotate(6.90 134.95 265.50)">off moon</text>
<text x="118.74" y="370.50" font-size="19.40" textLength="177.58" lengthAdjust="spacingAndGlyphs">21-cm (absorption)</text>
<text x="470.85" y="397.60" font-size="19.40" textLength="161.08" lengthAdjust="spacingAndGlyphs">21-cm (emission)</text>
<text x="479.41" y="454.41" font-size="19.40" textLength="135.11" lengthAdjust="spacingAndGlyphs" transform="rotate(3.10 479.41 454.41)">DARE baseline</text>
<text x="460.52" y="474.33" font-size="19.40" textLength="170.58" lengthAdjust="spacingAndGlyphs" transform="rotate(3.10 460.52 474.33)">mission sensitivity</text>
<text x="97.96" y="482.20" font-size="19.40" textLength="167.66" lengthAdjust="spacingAndGlyphs" transform="rotate(13.80 97.96 482.20)">Lunar dust impact</text>
<text x="313.56" y="80.60" font-size="19.40" textLength="87.94" lengthAdjust="spacingAndGlyphs">Redshift (</text>
<text x="403.29" y="80.60" font-size="19.40" textLength="8.88" lengthAdjust="spacingAndGlyphs" font-style="italic">z</text>
<text x="414.63" y="80.60" font-size="19.40" textLength="4.52" lengthAdjust="spacingAndGlyphs">)</text>
<text x="332.53" y="566.30" font-size="19.40" textLength="9.66" lengthAdjust="spacingAndGlyphs" font-style="italic">ν</text>
<text x="348.42" y="566.30" font-size="19.40" textLength="53.38" lengthAdjust="spacingAndGlyphs">(MHz)</text>
</g>
<g transform="translate(31.0 342.7) rotate(-90)" font-family="Liberation Sans, sans-serif" stroke="#000" stroke-width="0.3">
<text x="-1.78" y="0.00" font-size="19.40" textLength="12.11" lengthAdjust="spacingAndGlyphs" font-style="italic">T</text>
<text x="10.39" y="3.20" font-size="13.58" textLength="7.85" lengthAdjust="spacingAndGlyphs" font-style="italic">b</text>
<text x="25.76" y="0.50" font-size="18.80" textLength="25.23" lengthAdjust="spacingAndGlyphs">(K)</text>
</g>
</svg></body></html>
